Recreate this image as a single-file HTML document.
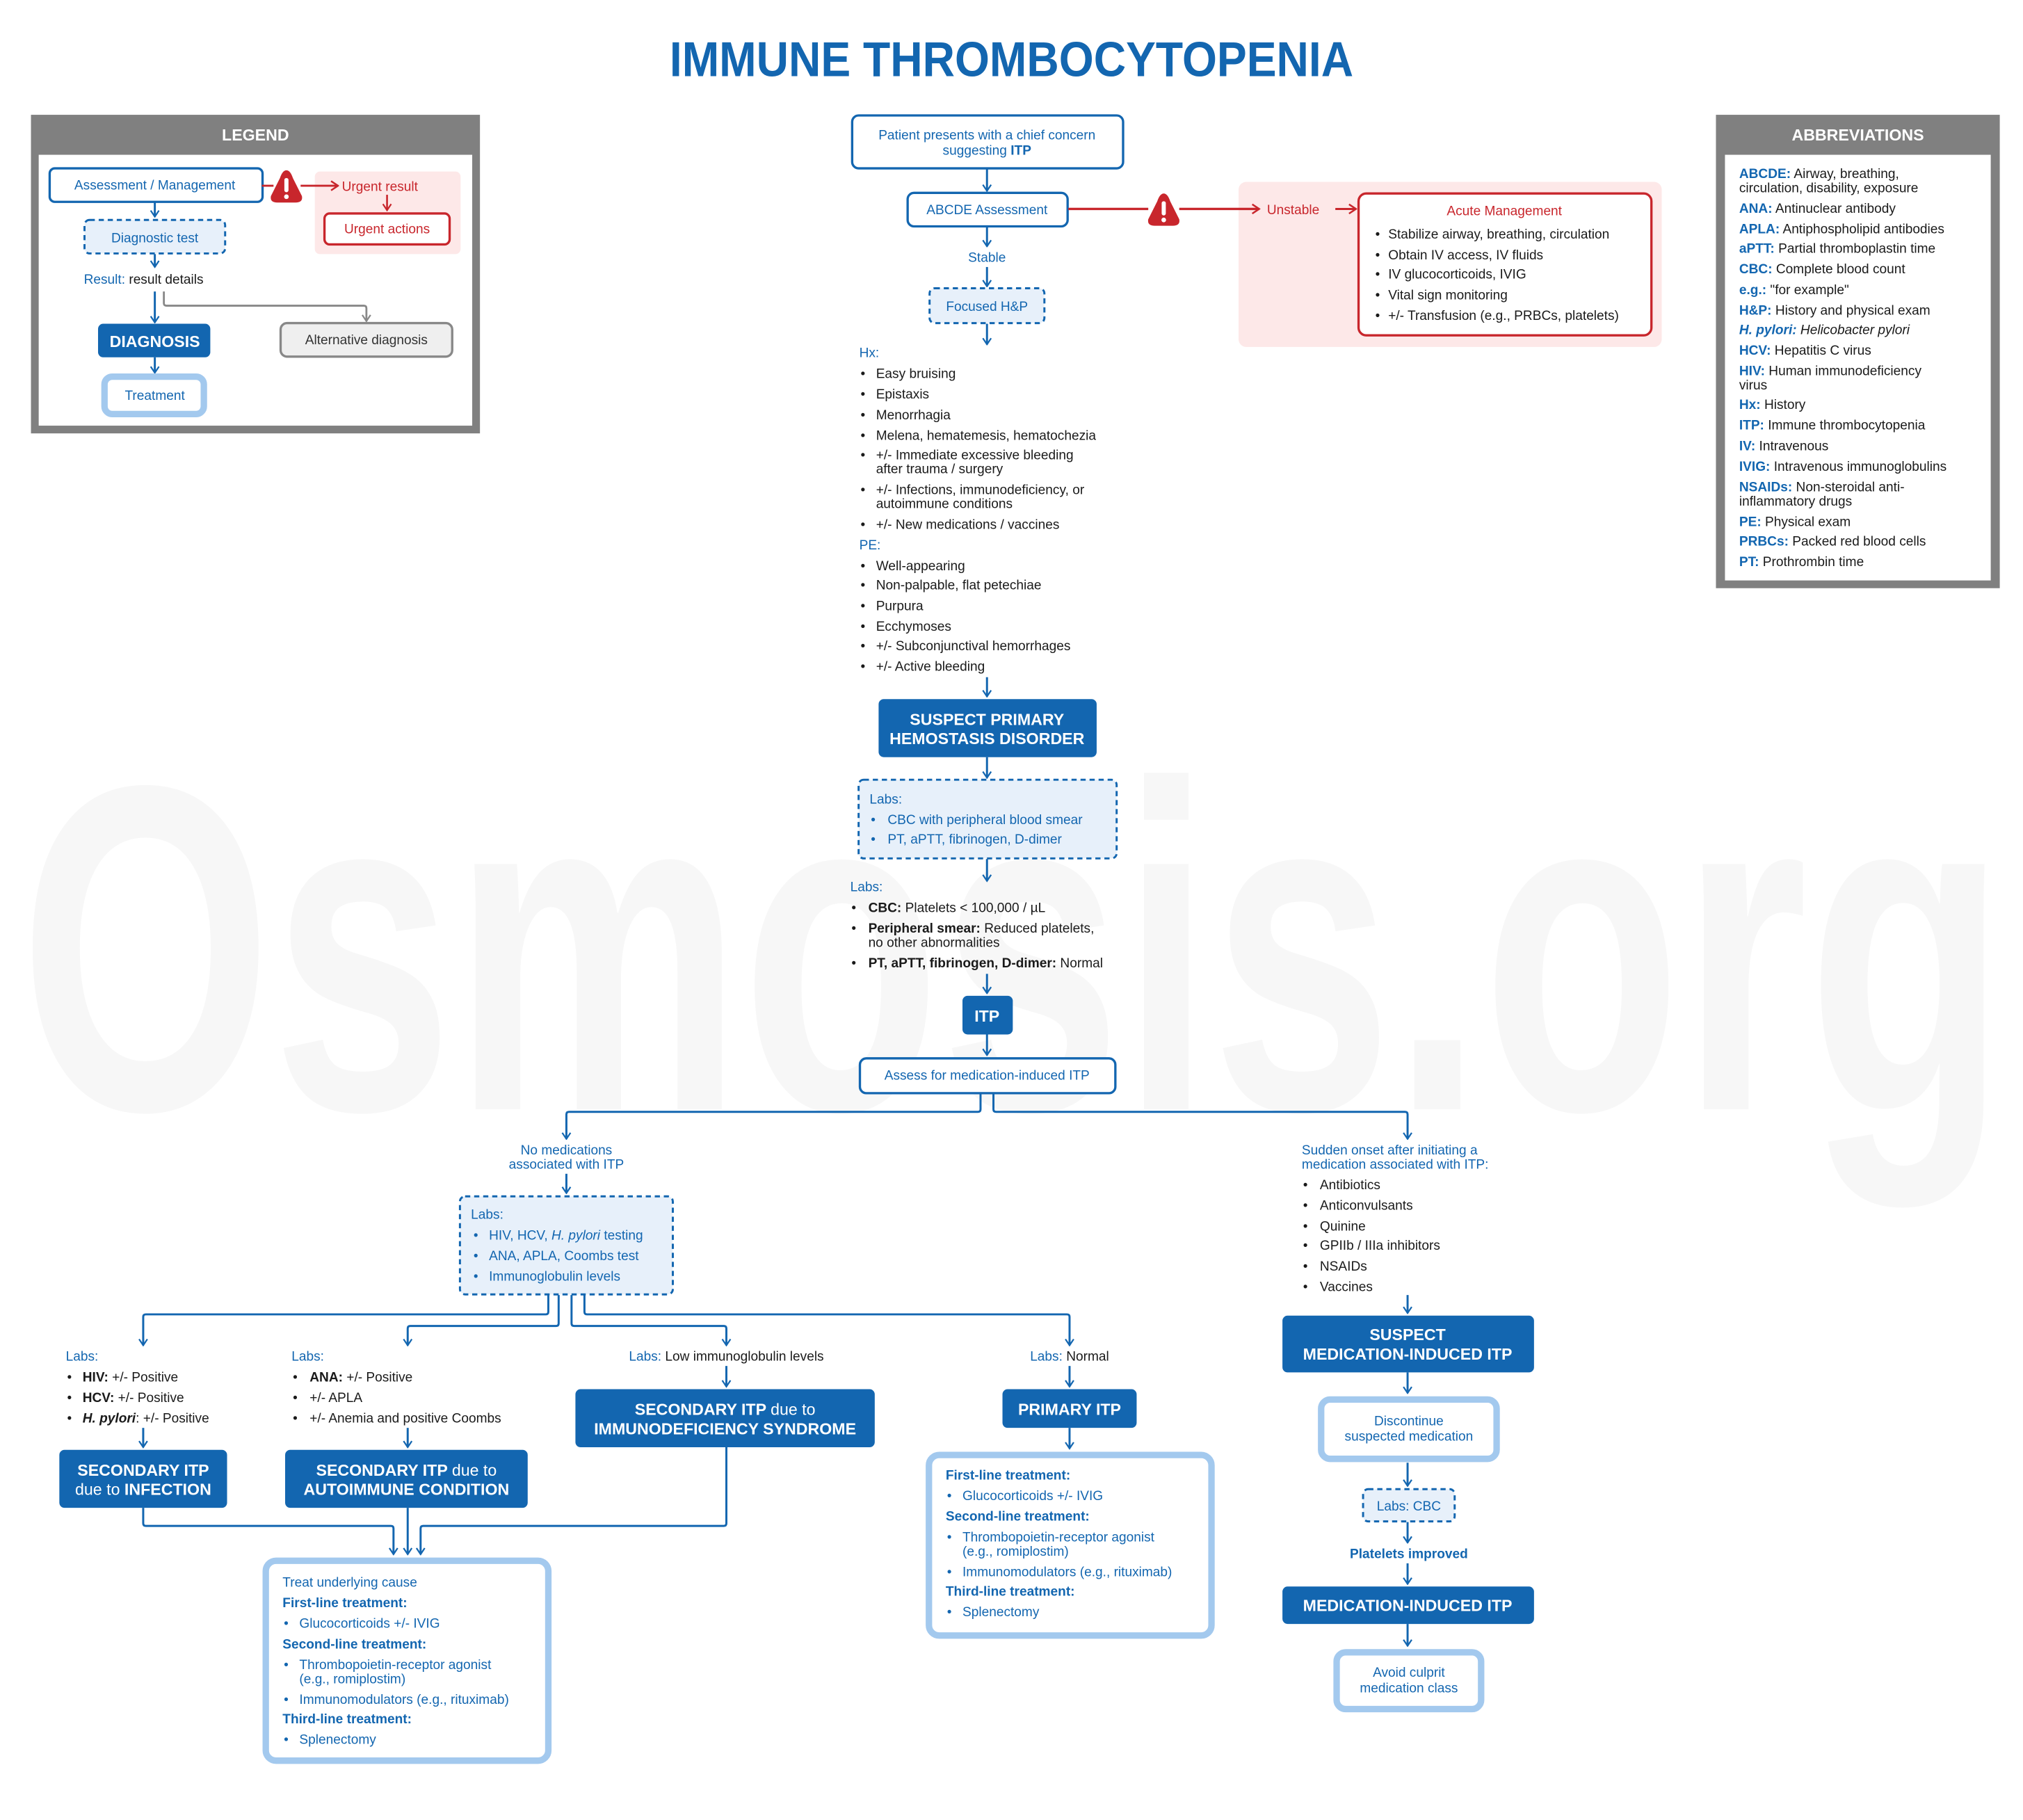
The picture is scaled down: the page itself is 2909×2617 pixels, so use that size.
<!DOCTYPE html>
<html><head><meta charset="utf-8"><style>
html,body{margin:0;padding:0;background:#fff}
svg{display:block}
text{font-family:"Liberation Sans",sans-serif;font-size:10.3px;fill:#1a1a1a}
.b{fill:#1366b0}
.r{fill:#c8262c}
.w{fill:#fff}
.bold{font-weight:bold}
.hd{font-weight:bold;fill:#fff;font-size:12.5px}
.ln{fill:none;stroke:#1366b0;stroke-width:1.6}
</style></head><body>
<svg width="2909" height="2617" viewBox="0 0 1568 1411" preserveAspectRatio="none" xmlns="http://www.w3.org/2000/svg">
<defs>
<marker id="a" viewBox="0 0 10 10" refX="9" refY="5" markerWidth="8" markerHeight="8" orient="auto" markerUnits="userSpaceOnUse"><path d="M3,1 L9,5 L3,9" fill="none" stroke="#1366b0" stroke-width="1.5"/></marker>
<marker id="ar" viewBox="0 0 10 10" refX="9" refY="5" markerWidth="9" markerHeight="9" orient="auto" markerUnits="userSpaceOnUse"><path d="M3,1 L9,5 L3,9" fill="none" stroke="#c8262c" stroke-width="1.5"/></marker>
<marker id="ag" viewBox="0 0 10 10" refX="9" refY="5" markerWidth="8" markerHeight="8" orient="auto" markerUnits="userSpaceOnUse"><path d="M3,1 L9,5 L3,9" fill="none" stroke="#888" stroke-width="1.5"/></marker>
<marker id="ad" viewBox="0 0 10 10" refX="9" refY="5" markerWidth="8" markerHeight="8" orient="auto" markerUnits="userSpaceOnUse"><path d="M3,1 L9,5 L3,9" fill="none" stroke="#c8262c" stroke-width="1.5"/></marker>
<g id="warn"><path d="M0,-13 Q3,-13 5,-7 L12,7 Q13,12 7,12 L-7,12 Q-13,12 -12,7 L-5,-7 Q-3,-13 0,-13Z" fill="#c8262c"/><rect x="-1.6" y="-7" width="3.2" height="11" rx="1.5" fill="#fff"/><circle cx="0" cy="7.5" r="1.8" fill="#fff"/></g>
</defs>

<!-- watermark -->
<text x="15" y="860" style="font-size:360px;font-weight:bold;fill:#f7f7f7" textLength="1540" lengthAdjust="spacingAndGlyphs">Osmosis.org</text>

<!-- title -->
<text x="784" y="59" text-anchor="middle" style="font-size:38px;font-weight:bold;fill:#1366b0" textLength="530" lengthAdjust="spacingAndGlyphs">IMMUNE THROMBOCYTOPENIA</text>

<!-- LEGEND -->
<rect x="24" y="89" width="348" height="247" fill="#808080"/>
<text x="198" y="109" text-anchor="middle" class="hd">LEGEND</text>
<rect x="30" y="120" width="336" height="210" fill="#fff"/>
<rect x="244" y="133" width="113" height="64" rx="4" fill="#fde8e8"/>
<rect x="38.5" y="130.5" width="165" height="26" rx="4" fill="#fff" stroke="#1366b0" stroke-width="1.8"/>
<text x="120" y="147" text-anchor="middle" class="b">Assessment / Management</text>
<line x1="203" y1="144" x2="212" y2="144" stroke="#c8262c" stroke-width="1.6"/>
<use href="#warn" x="222" y="145"/>
<line x1="233" y1="144" x2="262" y2="144" stroke="#c8262c" stroke-width="1.6" marker-end="url(#ar)"/>
<text x="265" y="148" class="r">Urgent result</text>
<line x1="300" y1="151" x2="300" y2="163" stroke="#c8262c" stroke-width="1.4" marker-end="url(#ad)"/>
<rect x="251.5" y="165.5" width="97" height="24" rx="4" fill="#fff" stroke="#c8262c" stroke-width="1.8"/>
<text x="300" y="181" text-anchor="middle" class="r">Urgent actions</text>
<line x1="120" y1="157" x2="120" y2="168" class="ln" marker-end="url(#a)"/>
<rect x="65.5" y="170.5" width="109" height="26" rx="4" fill="#e7f0fa" stroke="#1366b0" stroke-width="1.6" stroke-dasharray="4 3"/>
<text x="120" y="188" text-anchor="middle" class="b">Diagnostic test</text>
<line x1="120" y1="197" x2="120" y2="207" class="ln" marker-end="url(#a)"/>
<text x="65" y="220"><tspan class="b">Result:</tspan> result details</text>
<line x1="120" y1="226" x2="120" y2="250" class="ln" marker-end="url(#a)"/>
<path d="M127,226 V235 Q127,237 129,237 H282 Q284,237 284,239 V249" fill="none" stroke="#888" stroke-width="1.5" marker-end="url(#ag)"/>
<rect x="76" y="251" width="87" height="26" rx="4" fill="#1366b0"/>
<text x="120" y="269" text-anchor="middle" class="hd">DIAGNOSIS</text>
<rect x="217.5" y="250.5" width="133" height="26" rx="5" fill="#efefef" stroke="#888" stroke-width="1.8"/>
<text x="284" y="267" text-anchor="middle" style="fill:#333">Alternative diagnosis</text>
<line x1="120" y1="277" x2="120" y2="289" class="ln" marker-end="url(#a)"/>
<rect x="81" y="292" width="77" height="29" rx="6" fill="#fff" stroke="#a3c9ee" stroke-width="5"/>
<text x="120" y="310" text-anchor="middle" class="b">Treatment</text>

<!-- ABBREVIATIONS -->
<rect x="1330" y="89" width="220" height="367" fill="#808080"/>
<text x="1440" y="109" text-anchor="middle" class="hd">ABBREVIATIONS</text>
<rect x="1337" y="120" width="206" height="330" fill="#fff"/>
<g>
<text x="1348" y="138"><tspan class="b bold">ABCDE:</tspan> Airway, breathing,</text>
<text x="1348" y="149">circulation, disability, exposure</text>
<text x="1348" y="165"><tspan class="b bold">ANA:</tspan> Antinuclear antibody</text>
<text x="1348" y="181"><tspan class="b bold">APLA:</tspan> Antiphospholipid antibodies</text>
<text x="1348" y="196"><tspan class="b bold">aPTT:</tspan> Partial thromboplastin time</text>
<text x="1348" y="212"><tspan class="b bold">CBC:</tspan> Complete blood count</text>
<text x="1348" y="228"><tspan class="b bold">e.g.:</tspan> "for example"</text>
<text x="1348" y="244"><tspan class="b bold">H&amp;P:</tspan> History and physical exam</text>
<text x="1348" y="259" font-style="italic"><tspan class="b bold">H. pylori:</tspan> Helicobacter pylori</text>
<text x="1348" y="275"><tspan class="b bold">HCV:</tspan> Hepatitis C virus</text>
<text x="1348" y="291"><tspan class="b bold">HIV:</tspan> Human immunodeficiency</text>
<text x="1348" y="302">virus</text>
<text x="1348" y="317"><tspan class="b bold">Hx:</tspan> History</text>
<text x="1348" y="333"><tspan class="b bold">ITP:</tspan> Immune thrombocytopenia</text>
<text x="1348" y="349"><tspan class="b bold">IV:</tspan> Intravenous</text>
<text x="1348" y="365"><tspan class="b bold">IVIG:</tspan> Intravenous immunoglobulins</text>
<text x="1348" y="381"><tspan class="b bold">NSAIDs:</tspan> Non-steroidal anti-</text>
<text x="1348" y="392">inflammatory drugs</text>
<text x="1348" y="408"><tspan class="b bold">PE:</tspan> Physical exam</text>
<text x="1348" y="423"><tspan class="b bold">PRBCs:</tspan> Packed red blood cells</text>
<text x="1348" y="439"><tspan class="b bold">PT:</tspan> Prothrombin time</text>
</g>

<!-- Main top -->
<rect x="660.5" y="89.5" width="210" height="41" rx="5" fill="#fff" stroke="#1366b0" stroke-width="1.8"/>
<text x="765" y="108" text-anchor="middle" class="b">Patient presents with a chief concern</text>
<text x="765" y="120" text-anchor="middle" class="b">suggesting <tspan class="bold">ITP</tspan></text>
<line x1="765" y1="131" x2="765" y2="148" class="ln" marker-end="url(#a)"/>
<rect x="703.5" y="149.5" width="124" height="26" rx="5" fill="#fff" stroke="#1366b0" stroke-width="1.8"/>
<text x="765" y="166" text-anchor="middle" class="b">ABCDE Assessment</text>
<line x1="765" y1="176" x2="765" y2="191" class="ln" marker-end="url(#a)"/>
<text x="765" y="203" text-anchor="middle" class="b">Stable</text>
<line x1="765" y1="207" x2="765" y2="222" class="ln" marker-end="url(#a)"/>
<rect x="720.5" y="223.5" width="89" height="27" rx="4" fill="#e7f0fa" stroke="#1366b0" stroke-width="1.6" stroke-dasharray="4 3"/>
<text x="765" y="241" text-anchor="middle" class="b">Focused H&amp;P</text>
<line x1="765" y1="251" x2="765" y2="267" class="ln" marker-end="url(#a)"/>

<!-- unstable -->
<rect x="960" y="141" width="328" height="128" rx="6" fill="#fde8e8"/>
<line x1="828" y1="162" x2="890" y2="162" stroke="#c8262c" stroke-width="1.8"/>
<use href="#warn" x="902" y="163"/>
<line x1="914" y1="162" x2="976" y2="162" stroke="#c8262c" stroke-width="1.8" marker-end="url(#ar)"/>
<text x="982" y="166" class="r">Unstable</text>
<line x1="1035" y1="162" x2="1051" y2="162" stroke="#c8262c" stroke-width="1.6" marker-end="url(#ar)"/>
<rect x="1053" y="150" width="227" height="110" rx="6" fill="#fff" stroke="#c8262c" stroke-width="1.8"/>
<text x="1166" y="167" text-anchor="middle" class="r">Acute Management</text>
<g>
<text x="1066" y="185">•</text><text x="1076" y="185">Stabilize airway, breathing, circulation</text>
<text x="1066" y="201">•</text><text x="1076" y="201">Obtain IV access, IV fluids</text>
<text x="1066" y="216">•</text><text x="1076" y="216">IV glucocorticoids, IVIG</text>
<text x="1066" y="232">•</text><text x="1076" y="232">Vital sign monitoring</text>
<text x="1066" y="248">•</text><text x="1076" y="248">+/- Transfusion (e.g., PRBCs, platelets)</text>
</g>

<!-- Hx / PE -->
<text x="666" y="277" class="b">Hx:</text>
<g>
<text x="667" y="293">•</text><text x="679" y="293">Easy bruising</text>
<text x="667" y="309">•</text><text x="679" y="309">Epistaxis</text>
<text x="667" y="325">•</text><text x="679" y="325">Menorrhagia</text>
<text x="667" y="341">•</text><text x="679" y="341">Melena, hematemesis, hematochezia</text>
<text x="667" y="356">•</text><text x="679" y="356">+/- Immediate excessive bleeding</text>
<text x="679" y="367">after trauma / surgery</text>
<text x="667" y="383">•</text><text x="679" y="383">+/- Infections, immunodeficiency, or</text>
<text x="679" y="394">autoimmune conditions</text>
<text x="667" y="410">•</text><text x="679" y="410">+/- New medications / vaccines</text>
</g>
<text x="666" y="426" class="b">PE:</text>
<g>
<text x="667" y="442">•</text><text x="679" y="442">Well-appearing</text>
<text x="667" y="457">•</text><text x="679" y="457">Non-palpable, flat petechiae</text>
<text x="667" y="473">•</text><text x="679" y="473">Purpura</text>
<text x="667" y="489">•</text><text x="679" y="489">Ecchymoses</text>
<text x="667" y="504">•</text><text x="679" y="504">+/- Subconjunctival hemorrhages</text>
<text x="667" y="520">•</text><text x="679" y="520">+/- Active bleeding</text>
</g>
<line x1="765" y1="525" x2="765" y2="540" class="ln" marker-end="url(#a)"/>
<rect x="681" y="542" width="169" height="45" rx="4" fill="#1366b0"/>
<text x="765" y="562" text-anchor="middle" class="hd">SUSPECT PRIMARY</text>
<text x="765" y="577" text-anchor="middle" class="hd">HEMOSTASIS DISORDER</text>
<line x1="765" y1="587" x2="765" y2="603" class="ln" marker-end="url(#a)"/>
<rect x="665.5" y="604.5" width="200" height="61" rx="4" fill="#e7f0fa" stroke="#1366b0" stroke-width="1.6" stroke-dasharray="4 3"/>
<text x="674" y="623" class="b">Labs:</text>
<text x="675" y="639" class="b">•</text><text x="688" y="639" class="b">CBC with peripheral blood smear</text>
<text x="675" y="654" class="b">•</text><text x="688" y="654" class="b">PT, aPTT, fibrinogen, D-dimer</text>
<line x1="765" y1="666" x2="765" y2="683" class="ln" marker-end="url(#a)"/>
<text x="659" y="691" class="b">Labs:</text>
<text x="660" y="707">•</text><text x="673" y="707"><tspan class="bold">CBC:</tspan> Platelets &lt; 100,000 / µL</text>
<text x="660" y="723">•</text><text x="673" y="723"><tspan class="bold">Peripheral smear:</tspan> Reduced platelets,</text>
<text x="673" y="734">no other abnormalities</text>
<text x="660" y="750">•</text><text x="673" y="750"><tspan class="bold">PT, aPTT, fibrinogen, D-dimer:</tspan> Normal</text>
<line x1="765" y1="755" x2="765" y2="770" class="ln" marker-end="url(#a)"/>
<rect x="746" y="772" width="39" height="30" rx="4" fill="#1366b0"/>
<text x="765" y="792" text-anchor="middle" class="hd">ITP</text>
<line x1="765" y1="802" x2="765" y2="818" class="ln" marker-end="url(#a)"/>
<rect x="666.5" y="820.5" width="198" height="27" rx="5" fill="#fff" stroke="#1366b0" stroke-width="1.8"/>
<text x="765" y="837" text-anchor="middle" class="b">Assess for medication-induced ITP</text>
<path d="M760,848 V860 Q760,862 758,862 H441 Q439,862 439,864 V883" class="ln" marker-end="url(#a)"/>
<path d="M770,848 V860 Q770,862 772,862 H1089 Q1091,862 1091,864 V883" class="ln" marker-end="url(#a)"/>

<!-- left branch -->
<text x="439" y="895" text-anchor="middle" class="b">No medications</text>
<text x="439" y="906" text-anchor="middle" class="b">associated with ITP</text>
<line x1="439" y1="910" x2="439" y2="925" class="ln" marker-end="url(#a)"/>
<rect x="356.5" y="927.5" width="165" height="76" rx="4" fill="#e7f0fa" stroke="#1366b0" stroke-width="1.6" stroke-dasharray="4 3"/>
<text x="365" y="945" class="b">Labs:</text>
<text x="367" y="961" class="b">•</text><text x="379" y="961" class="b">HIV, HCV, <tspan font-style="italic">H. pylori</tspan> testing</text>
<text x="367" y="977" class="b">•</text><text x="379" y="977" class="b">ANA, APLA, Coombs test</text>
<text x="367" y="993" class="b">•</text><text x="379" y="993" class="b">Immunoglobulin levels</text>
<path d="M425,1004 V1017 Q425,1019 423,1019 H113 Q111,1019 111,1021 V1043" class="ln" marker-end="url(#a)"/>
<path d="M433,1004 V1026 Q433,1028 431,1028 H318 Q316,1028 316,1030 V1043" class="ln" marker-end="url(#a)"/>
<path d="M443,1004 V1026 Q443,1028 445,1028 H561 Q563,1028 563,1030 V1043" class="ln" marker-end="url(#a)"/>
<path d="M453,1004 V1017 Q453,1019 455,1019 H827 Q829,1019 829,1021 V1043" class="ln" marker-end="url(#a)"/>

<text x="51" y="1055" class="b">Labs:</text>
<text x="52" y="1071">•</text><text x="64" y="1071"><tspan class="bold">HIV:</tspan> +/- Positive</text>
<text x="52" y="1087">•</text><text x="64" y="1087"><tspan class="bold">HCV:</tspan> +/- Positive</text>
<text x="52" y="1103">•</text><text x="64" y="1103"><tspan class="bold" font-style="italic">H. pylori</tspan>: +/- Positive</text>
<line x1="111" y1="1107" x2="111" y2="1122" class="ln" marker-end="url(#a)"/>
<rect x="46" y="1124" width="130" height="45" rx="4" fill="#1366b0"/>
<text x="111" y="1144" text-anchor="middle" class="hd">SECONDARY ITP</text>
<text x="111" y="1159" text-anchor="middle" class="hd"><tspan font-weight="normal">due to</tspan> INFECTION</text>

<text x="226" y="1055" class="b">Labs:</text>
<text x="227" y="1071">•</text><text x="240" y="1071"><tspan class="bold">ANA:</tspan> +/- Positive</text>
<text x="227" y="1087">•</text><text x="240" y="1087">+/- APLA</text>
<text x="227" y="1103">•</text><text x="240" y="1103">+/- Anemia and positive Coombs</text>
<line x1="316" y1="1107" x2="316" y2="1122" class="ln" marker-end="url(#a)"/>
<rect x="221" y="1124" width="188" height="45" rx="4" fill="#1366b0"/>
<text x="315" y="1144" text-anchor="middle" class="hd">SECONDARY ITP <tspan font-weight="normal">due to</tspan></text>
<text x="315" y="1159" text-anchor="middle" class="hd">AUTOIMMUNE CONDITION</text>

<text x="563" y="1055" text-anchor="middle"><tspan class="b">Labs:</tspan> Low immunoglobulin levels</text>
<line x1="563" y1="1059" x2="563" y2="1075" class="ln" marker-end="url(#a)"/>
<rect x="446" y="1077" width="232" height="45" rx="4" fill="#1366b0"/>
<text x="562" y="1097" text-anchor="middle" class="hd">SECONDARY ITP <tspan font-weight="normal">due to</tspan></text>
<text x="562" y="1112" text-anchor="middle" class="hd">IMMUNODEFICIENCY SYNDROME</text>

<text x="829" y="1055" text-anchor="middle"><tspan class="b">Labs:</tspan> Normal</text>
<line x1="829" y1="1059" x2="829" y2="1075" class="ln" marker-end="url(#a)"/>
<rect x="777" y="1077" width="104" height="30" rx="4" fill="#1366b0"/>
<text x="829" y="1097" text-anchor="middle" class="hd">PRIMARY ITP</text>
<line x1="829" y1="1107" x2="829" y2="1123" class="ln" marker-end="url(#a)"/>
<rect x="720" y="1128" width="219" height="140" rx="8" fill="#fff" stroke="#a3c9ee" stroke-width="5"/>
<text x="733" y="1147" class="b bold">First-line treatment:</text>
<text x="734" y="1163" class="b">•</text><text x="746" y="1163" class="b">Glucocorticoids +/- IVIG</text>
<text x="733" y="1179" class="b bold">Second-line treatment:</text>
<text x="734" y="1195" class="b">•</text><text x="746" y="1195" class="b">Thrombopoietin-receptor agonist</text>
<text x="746" y="1206" class="b">(e.g., romiplostim)</text>
<text x="734" y="1222" class="b">•</text><text x="746" y="1222" class="b">Immunomodulators (e.g., rituximab)</text>
<text x="733" y="1237" class="b bold">Third-line treatment:</text>
<text x="734" y="1253" class="b">•</text><text x="746" y="1253" class="b">Splenectomy</text>

<path d="M111,1169 V1181 Q111,1183 113,1183 H303 Q305,1183 305,1185 V1205" class="ln" marker-end="url(#a)"/>
<line x1="316" y1="1169" x2="316" y2="1205" class="ln" marker-end="url(#a)"/>
<path d="M563,1122 V1181 Q563,1183 561,1183 H328 Q326,1183 326,1185 V1205" class="ln" marker-end="url(#a)"/>
<rect x="206" y="1210" width="219" height="155" rx="8" fill="#fff" stroke="#a3c9ee" stroke-width="5"/>
<text x="219" y="1230" class="b">Treat underlying cause</text>
<text x="219" y="1246" class="b bold">First-line treatment:</text>
<text x="220" y="1262" class="b">•</text><text x="232" y="1262" class="b">Glucocorticoids +/- IVIG</text>
<text x="219" y="1278" class="b bold">Second-line treatment:</text>
<text x="220" y="1294" class="b">•</text><text x="232" y="1294" class="b">Thrombopoietin-receptor agonist</text>
<text x="232" y="1305" class="b">(e.g., romiplostim)</text>
<text x="220" y="1321" class="b">•</text><text x="232" y="1321" class="b">Immunomodulators (e.g., rituximab)</text>
<text x="219" y="1336" class="b bold">Third-line treatment:</text>
<text x="220" y="1352" class="b">•</text><text x="232" y="1352" class="b">Splenectomy</text>

<!-- right branch -->
<text x="1009" y="895" class="b">Sudden onset after initiating a</text>
<text x="1009" y="906" class="b">medication associated with ITP:</text>
<text x="1010" y="922">•</text><text x="1023" y="922">Antibiotics</text>
<text x="1010" y="938">•</text><text x="1023" y="938">Anticonvulsants</text>
<text x="1010" y="954">•</text><text x="1023" y="954">Quinine</text>
<text x="1010" y="969">•</text><text x="1023" y="969">GPIIb / IIIa inhibitors</text>
<text x="1010" y="985">•</text><text x="1023" y="985">NSAIDs</text>
<text x="1010" y="1001">•</text><text x="1023" y="1001">Vaccines</text>
<line x1="1091" y1="1004" x2="1091" y2="1018" class="ln" marker-end="url(#a)"/>
<rect x="994" y="1020" width="195" height="44" rx="4" fill="#1366b0"/>
<text x="1091" y="1039" text-anchor="middle" class="hd">SUSPECT</text>
<text x="1091" y="1054" text-anchor="middle" class="hd">MEDICATION-INDUCED ITP</text>
<line x1="1091" y1="1064" x2="1091" y2="1080" class="ln" marker-end="url(#a)"/>
<rect x="1024" y="1085" width="136" height="46" rx="7" fill="#fff" stroke="#a3c9ee" stroke-width="5"/>
<text x="1092" y="1105" text-anchor="middle" class="b">Discontinue</text>
<text x="1092" y="1117" text-anchor="middle" class="b">suspected medication</text>
<line x1="1091" y1="1134" x2="1091" y2="1152" class="ln" marker-end="url(#a)"/>
<rect x="1056.5" y="1154.5" width="71" height="25" rx="4" fill="#e7f0fa" stroke="#1366b0" stroke-width="1.6" stroke-dasharray="4 3"/>
<text x="1092" y="1171" text-anchor="middle" class="b">Labs: CBC</text>
<line x1="1091" y1="1180" x2="1091" y2="1196" class="ln" marker-end="url(#a)"/>
<text x="1092" y="1208" text-anchor="middle" class="b bold">Platelets improved</text>
<line x1="1091" y1="1212" x2="1091" y2="1228" class="ln" marker-end="url(#a)"/>
<rect x="994" y="1230" width="195" height="29" rx="4" fill="#1366b0"/>
<text x="1091" y="1249" text-anchor="middle" class="hd">MEDICATION-INDUCED ITP</text>
<line x1="1091" y1="1259" x2="1091" y2="1276" class="ln" marker-end="url(#a)"/>
<rect x="1036" y="1281" width="112" height="44" rx="7" fill="#fff" stroke="#a3c9ee" stroke-width="5"/>
<text x="1092" y="1300" text-anchor="middle" class="b">Avoid culprit</text>
<text x="1092" y="1312" text-anchor="middle" class="b">medication class</text>
</svg>
</body></html>
